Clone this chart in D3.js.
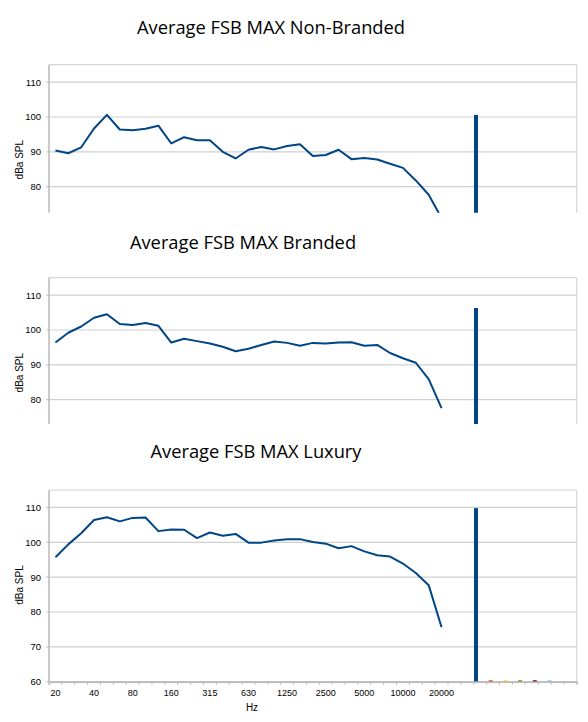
<!DOCTYPE html>
<html lang="en">
<head>
<meta charset="UTF-8">
<title>Average FSB MAX</title>
<script src="https://d3js.org/d3.v7.min.js"></script>
<style>
  body { margin: 0; background: #fff; }
  svg { display: block; }
</style>
</head>
<body>
<div id="chart"></div>
<script>
// third-octave bands (Hz) shown on the category axis
var freqs = ['20','25','31.5','40','50','63','80','100','125','160','200','250','315','400','500',
             '630','800','1000','1250','1600','2000','2500','3150','4000','5000','6300','8000',
             '10000','12500','16000','20000'];
var tickLabels = ['20','40','80','160','315','630','1250','2500','5000','10000','20000'];
var yTicks = [60, 70, 80, 90, 100, 110];

var nonBranded = [90.4,89.6,91.3,96.7,100.6,96.4,96.2,96.6,97.5,92.4,94.2,93.3,93.3,90.0,88.1,
                  90.6,91.4,90.7,91.7,92.2,88.8,89.1,90.6,87.9,88.2,87.8,86.6,85.4,81.8,77.7,71.0];
var branded    = [96.4,99.2,101.0,103.5,104.5,101.7,101.4,102.0,101.2,96.4,97.5,96.8,96.1,95.2,93.9,
                  94.6,95.7,96.7,96.3,95.5,96.3,96.1,96.4,96.5,95.5,95.7,93.4,91.9,90.6,85.9,77.6];
var luxury     = [95.7,99.4,102.6,106.4,107.2,106.0,107.0,107.1,103.2,103.7,103.6,101.2,102.8,101.9,102.4,
                  99.9,99.9,100.5,100.9,100.9,100.1,99.6,98.3,98.9,97.4,96.3,95.9,93.9,91.2,87.7,75.6];

// column series (overall value + empty series)
var colSeries = ['Total', 'S2', 'S3', 'S4', 'S5', 'S6'];
var colColors = ['#004586', '#ff420e', '#ffd320', '#579d1c', '#7e0021', '#83caff'];
var totalNonBranded = 100.6;
var totalBranded = 106.3;
var totalLuxury = 109.8;

var panels = [
  {title: 'Average FSB MAX Non-Branded', titleX: 271, titleY: 34, top: 64.7, clip: 212.7, values: nonBranded, total: totalNonBranded, axis: false},
  {title: 'Average FSB MAX Branded', titleX: 243, titleY: 249, top: 277.7, clip: 424, values: branded, total: totalBranded, axis: false},
  {title: 'Average FSB MAX Luxury', titleX: 256, titleY: 458, top: 490, clip: 722, values: luxury, total: totalLuxury, axis: true}
];

var width = 588, height = 722;
var left = 49, right = 576.7, plotH = 191.7;

var svg = d3.select('#chart').append('svg')
    .attr('width', width)
    .attr('height', height);

var xScale = d3.scaleBand()
    .domain(d3.range(41))
    .range([left, right]);

var colScale = d3.scalePoint()
    .domain(colSeries)
    .range([476, 549.5]);

var line = d3.line()
    .x(function(d, i) { return xScale(i) + xScale.bandwidth() / 2; });

panels.forEach(function(p, k) {
    var yScale = d3.scaleLinear()
        .domain([60, 115])
        .range([p.top + plotH, p.top]);

    svg.append('text')
        .attr('x', p.titleX)
        .attr('y', p.titleY)
        .attr('text-anchor', 'middle')
        .style('font-family', 'Open Sans')
        .style('font-size', '18.3px')
        .text(p.title);

    svg.append('clipPath').attr('id', 'clip' + k)
        .append('rect')
        .attr('x', 0).attr('y', p.top - 2)
        .attr('width', width).attr('height', p.clip - p.top + 2);

    var g = svg.append('g').attr('clip-path', 'url(#clip' + k + ')');

    // gridlines
    g.selectAll('.grid')
        .data(yTicks)
        .enter()
        .append('line')
        .attr('x1', left - 3)
        .attr('x2', right)
        .attr('y1', function(d) { return yScale(d); })
        .attr('y2', function(d) { return yScale(d); })
        .attr('stroke', '#cfcfcf')
        .attr('stroke-width', 1.2);

    // top and right border
    g.append('line')
        .attr('x1', left).attr('x2', right)
        .attr('y1', p.top).attr('y2', p.top)
        .attr('stroke', '#d6d6d6').attr('stroke-width', 1.2);
    g.append('line')
        .attr('x1', right).attr('x2', right)
        .attr('y1', p.top).attr('y2', p.top + plotH)
        .attr('stroke', '#d6d6d6').attr('stroke-width', 1.2);

    // y tick labels
    g.selectAll('.ylab')
        .data(yTicks)
        .enter()
        .append('text')
        .attr('x', 41)
        .attr('y', function(d) { return yScale(d) + 3.5; })
        .attr('text-anchor', 'end')
        .style('font-family', 'Liberation Sans')
        .style('font-size', '9.5px')
        .text(function(d) { return d; });

    // columns
    g.selectAll('.col')
        .data(colSeries)
        .enter()
        .append('rect')
        .attr('x', function(d) { return colScale(d) - 2; })
        .attr('width', 4)
        .attr('y', function(d, i) { return i === 0 ? yScale(p.total) : yScale(60) - 1.5; })
        .attr('height', function(d, i) { return i === 0 ? yScale(60) - yScale(p.total) : 1.5; })
        .attr('fill', function(d, i) { return colColors[i]; });

    // left axis
    g.append('line')
        .attr('x1', left).attr('x2', left)
        .attr('y1', p.top).attr('y2', p.top + plotH)
        .attr('stroke', '#b8b8b8').attr('stroke-width', 1.5);

    // line series
    line.y(function(d) { return yScale(d); });
    g.append('path')
        .datum(p.values)
        .attr('d', line)
        .attr('fill', 'none')
        .attr('stroke', '#004586')
        .attr('stroke-width', 2)
        .attr('stroke-linejoin', 'round');

    svg.append('text')
        .attr('transform', 'translate(23,' + (p.top + 95) + ') rotate(-90)')
        .attr('text-anchor', 'middle')
        .style('font-family', 'Liberation Sans')
        .style('font-size', '10px')
        .text('dBa SPL');

    if (p.axis) {
        var y0 = yScale(60);
        var xAxis = d3.axisBottom(xScale)
            .tickSize(3)
            .tickFormat(function(i) { return i % 3 === 0 && i / 3 < tickLabels.length ? tickLabels[i / 3] : ''; });
        var ax = svg.append('g')
            .attr('transform', 'translate(0,' + y0 + ')')
            .call(xAxis);
        ax.select('.domain').attr('stroke', '#b8b8b8').attr('stroke-width', 1.5);
        ax.selectAll('.tick line')
            .attr('stroke', '#b8b8b8')
            .attr('transform', 'translate(' + (-xScale.bandwidth() / 2) + ',0)');
        ax.selectAll('.tick text')
            .attr('dy', '0.9em')
            .style('font-family', 'Liberation Sans')
            .style('font-size', '9px');
        svg.append('text')
            .attr('x', 252)
            .attr('y', 711)
            .attr('text-anchor', 'middle')
            .style('font-family', 'Liberation Sans')
            .style('font-size', '10px')
            .text('Hz');
    }
});
</script>
</body>
</html>
